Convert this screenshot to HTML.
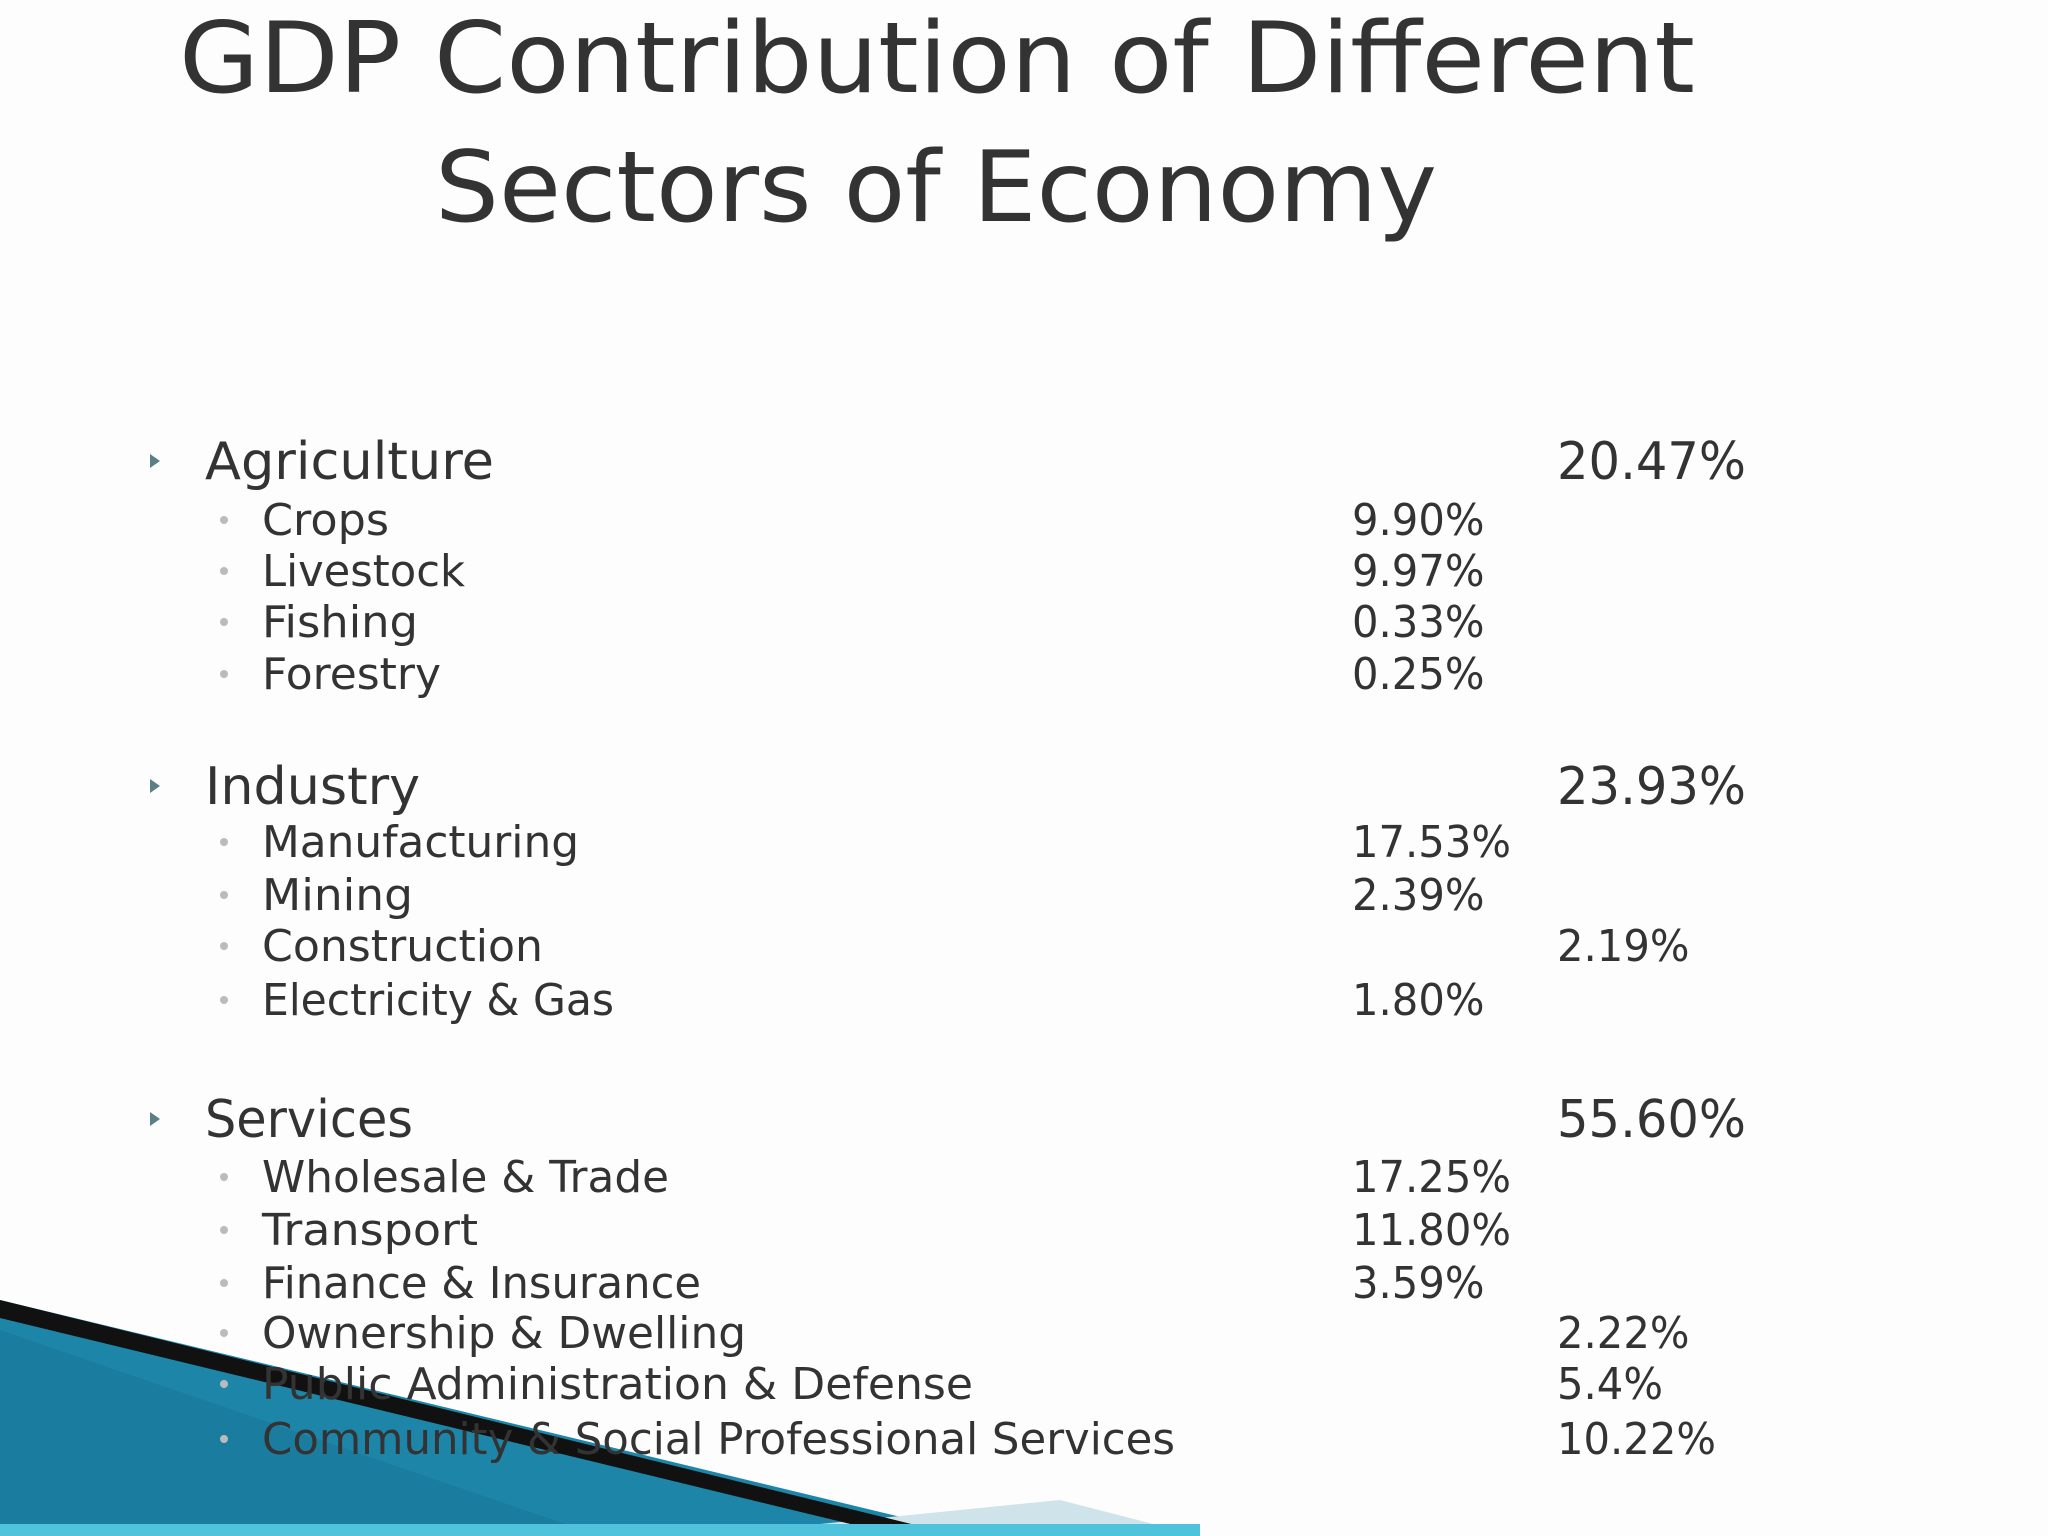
<!DOCTYPE html>
<html><head><meta charset="utf-8"><style>
html,body{margin:0;padding:0;background:#fff;}
svg{display:block;}
text{font-family:"DejaVu Sans","Liberation Sans",sans-serif;fill:#333;}
</style></head><body>
<svg id="s" width="2048" height="1536" viewBox="0 0 2048 1536">
<rect x="0" y="0" width="2048" height="1536" fill="#fdfdfd"/>
<g>
<polygon points="0,1300 980,1536 0,1536" fill="#1d86a8"/>
<polygon points="700,1536 1200,1536 1060,1500" fill="#cfe3ea"/>
<polygon points="0,1330 600,1536 0,1536" fill="#1a7da0"/>
<polygon points="0,1300 0,1318 900,1536 960,1536" fill="#111"/>
<rect x="0" y="1524" width="1200" height="12" fill="#4fc2dc"/>
</g>
<text x="179" y="92" font-size="98" fill="#3a3a3a" textLength="1516" lengthAdjust="spacingAndGlyphs">GDP Contribution of Different</text>
<text x="435" y="221" font-size="98" fill="#3a3a3a" textLength="1002" lengthAdjust="spacingAndGlyphs">Sectors of Economy</text>
<g id="rows"></g>
</svg>
<script>
const labels = ["Agriculture","Crops","Livestock","Fishing","Forestry","Industry","Manufacturing","Mining","Construction","Electricity & Gas","Services","Wholesale & Trade","Transport","Finance & Insurance","Ownership & Dwelling","Public Administration & Defense","Community & Social Professional Services"];
const levels = [0,1,1,1,1,0,1,1,1,1,0,1,1,1,1,1,1];
const values = ["20.47%","9.90%","9.97%","0.33%","0.25%","23.93%","17.53%","2.39%","2.19%","1.80%","55.60%","17.25%","11.80%","3.59%","2.22%","5.4%","10.22%"];
const columns = [2,1,1,1,1,2,1,1,2,1,2,1,1,1,2,2,2];
const rowY = [461,520,571,622,674,786,842,895,946,1000,1119,1177,1230,1283,1333,1384,1439];
const labelW = [289,127,203,156,179,215,317,151,281,352,208,407,216,439,484,711,913];
const NS="http://www.w3.org/2000/svg";
const g=document.getElementById('rows');
function valW(v,big){ // approximate widths from reference
  const perChar = big?31.5:26.5; return v.length*perChar;
}
labels.forEach((lab,i)=>{
  const main=levels[i]===0;
  const fs=main?52:44;
  const y=rowY[i]+(main?18:15);
  const b=document.createElementNS(NS, main?'polygon':'circle');
  if(main){b.setAttribute('points',`150,${rowY[i]-7} 160,${rowY[i]} 150,${rowY[i]+7}`);b.setAttribute('fill','#5a7f86');}
  else{b.setAttribute('cx',224);b.setAttribute('cy',rowY[i]);b.setAttribute('r',4);b.setAttribute('fill','#bbb');}
  
  
  g.appendChild(b);
  const t=document.createElementNS(NS,'text');
  t.setAttribute('x',main?205:262);t.setAttribute('y',y);t.setAttribute('font-size',fs);
  t.setAttribute('textLength',labelW[i]);t.setAttribute('lengthAdjust','spacingAndGlyphs');
  t.textContent=lab;
  
  
  g.appendChild(t);
  const v=document.createElementNS(NS,'text');
  v.setAttribute('x',columns[i]===2?1557:1352);v.setAttribute('y',y);v.setAttribute('font-size',fs);
  v.setAttribute('textLength',valW(values[i],main));v.setAttribute('lengthAdjust','spacingAndGlyphs');
  v.textContent=values[i];
  
  
  g.appendChild(v);
});
</script>
</body></html>
